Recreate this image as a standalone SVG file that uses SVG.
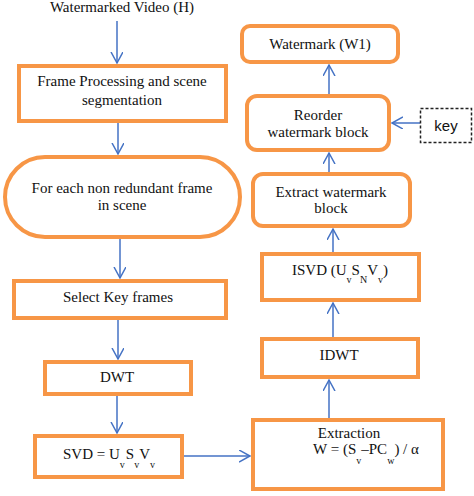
<svg xmlns="http://www.w3.org/2000/svg" width="474" height="496" viewBox="0 0 474 496">
<style>
.box{fill:#fff;stroke:#F79646;stroke-width:4}
.t{font-size:15px;fill:#111;text-anchor:middle}
.sub{font-size:10px}
.c{stroke:#4472C4;stroke-width:1.5;fill:none}
</style>
<defs>
<marker id="ah" markerUnits="userSpaceOnUse" markerWidth="14" markerHeight="14" refX="11" refY="6" orient="auto" viewBox="0 0 14 14">
<path d="M0,0 L11,6 L0,12" fill="none" stroke="#4472C4" stroke-width="1.5"/>
</marker>
</defs>
<rect width="474" height="496" fill="#fff"/>
<g id="connectors">
<line class="c" x1="117" y1="21" x2="117" y2="63" marker-end="url(#ah)"/>
<line class="c" x1="118" y1="123" x2="118" y2="154" marker-end="url(#ah)"/>
<line class="c" x1="120" y1="239" x2="120" y2="278" marker-end="url(#ah)"/>
<line class="c" x1="118" y1="320" x2="118" y2="359" marker-end="url(#ah)"/>
<line class="c" x1="117" y1="396" x2="117" y2="433" marker-end="url(#ah)"/>
<line class="c" x1="184" y1="456" x2="250" y2="456" marker-end="url(#ah)"/>
<line class="c" x1="329" y1="418" x2="329" y2="380" marker-end="url(#ah)"/>
<line class="c" x1="333" y1="337" x2="333" y2="303" marker-end="url(#ah)"/>
<line class="c" x1="333" y1="252" x2="333" y2="229" marker-end="url(#ah)"/>
<line class="c" x1="329" y1="172" x2="329" y2="153" marker-end="url(#ah)"/>
<line class="c" x1="329" y1="94" x2="329" y2="65" marker-end="url(#ah)"/>
<line class="c" x1="420" y1="123" x2="392" y2="123" marker-end="url(#ah)"/>
</g>
<g font-family="'Liberation Serif', 'DejaVu Serif', 'Times New Roman', serif">
<g id="input"><text class="t" x="122" y="12">Watermarked Video (H)</text></g>
<g id="frame-processing">
<rect class="box" x="19" y="66" width="207" height="55"/>
<text class="t" x="122" y="86">Frame Processing and scene</text>
<text class="t" x="122" y="105">segmentation</text>
</g>
<g id="for-each">
<rect class="box" x="5" y="157" width="235" height="80" rx="40"/>
<text class="t" x="122" y="193">For each non redundant frame</text>
<text class="t" x="122" y="210">in scene</text>
</g>
<g id="select-key">
<rect class="box" x="14" y="281" width="212" height="37"/>
<text class="t" x="118" y="302">Select Key frames</text>
</g>
<g id="dwt">
<rect class="box" x="45" y="362" width="146" height="32"/>
<text class="t" x="117" y="382">DWT</text>
</g>
<g id="svd">
<rect class="box" x="35" y="436" width="147" height="41"/>
<text class="t" x="109" y="459">SVD = U<tspan class="sub" dy="9">v</tspan><tspan dx="1" dy="-9">S</tspan><tspan class="sub" dy="9">v</tspan><tspan dy="-9">V</tspan><tspan class="sub" dy="9">v</tspan></text>
</g>
<g id="extraction">
<rect class="box" x="253" y="420" width="190" height="69"/>
<text class="t" x="349" y="438">Extraction</text>
<text class="t" x="366" y="454">W = (S<tspan class="sub" dy="10">v</tspan><tspan dy="-10">–PC</tspan><tspan class="sub" dy="10">w</tspan><tspan dy="-10">) / α</tspan></text>
</g>
<g id="idwt">
<rect class="box" x="262" y="339" width="156" height="38"/>
<text class="t" x="339" y="360">IDWT</text>
</g>
<g id="isvd">
<rect class="box" x="262" y="254" width="157" height="46"/>
<text class="t" x="340" y="275">ISVD (U<tspan class="sub" dy="8">v</tspan><tspan dy="-8">S</tspan><tspan class="sub" dy="8">N</tspan><tspan dy="-8">V</tspan><tspan class="sub" dy="8">v</tspan><tspan dy="-8">)</tspan></text>
</g>
<g id="extract-block">
<rect class="box" x="253" y="174" width="157" height="52" rx="10"/>
<text class="t" x="331" y="197">Extract watermark</text>
<text class="t" x="331" y="213">block</text>
</g>
<g id="reorder">
<rect class="box" x="247" y="96" width="142" height="54" rx="10"/>
<text class="t" x="318" y="120">Reorder</text>
<text class="t" x="318" y="137">watermark block</text>
</g>
<g id="watermark">
<rect class="box" x="242" y="26" width="156" height="36" rx="8"/>
<text class="t" x="320" y="49">Watermark (W1)</text>
</g>
</g>
<g id="key">
<rect x="420.5" y="108.5" width="51" height="34" fill="#fff" stroke="#222" stroke-width="1.5" stroke-dasharray="3,2"/>
<text x="446" y="131" font-family="'Liberation Sans', Arial, sans-serif" font-size="15" fill="#111" text-anchor="middle">key</text>
</g>
</svg>
